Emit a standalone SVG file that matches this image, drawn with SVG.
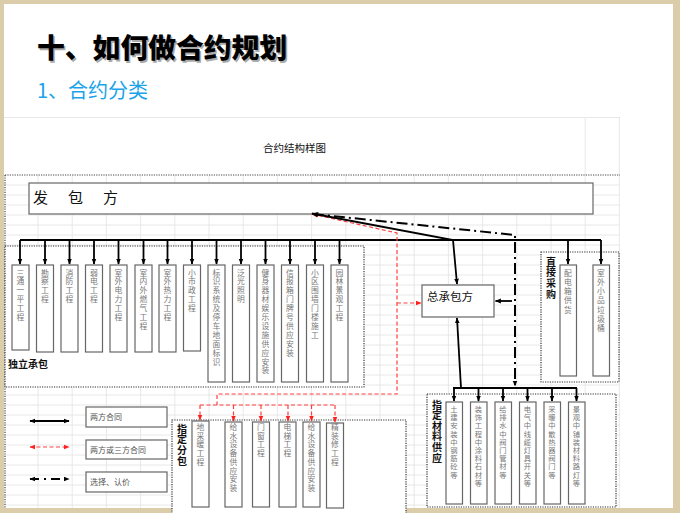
<svg xmlns="http://www.w3.org/2000/svg" width="680" height="513" viewBox="0 0 680 513">
<defs>
<style>
.cjk{font-family:"Noto Sans CJK SC","Noto Sans",sans-serif}
.v{font-family:"Noto Sans CJK SC",sans-serif;font-size:7.8px;fill:#777;text-anchor:middle}
.vs{font-family:"Noto Sans CJK SC",sans-serif;font-size:7.3px;fill:#777;text-anchor:middle}
.lbl{font-family:"Noto Sans CJK SC",sans-serif;font-size:10px;font-weight:bold;fill:#111}
.vl{font-family:"Noto Sans CJK SC",sans-serif;font-size:10px;font-weight:bold;fill:#111;text-anchor:middle}
.box{fill:#fff;stroke:#666;stroke-width:1.2}
.frame{fill:#fff;stroke:#333;stroke-width:1.2;stroke-dasharray:1.2 1.2}
.grid{stroke:#e2e2e2;stroke-width:0.8;fill:none}
.solid{stroke:#000;stroke-width:1.8;fill:none}
.red{stroke:#ff4040;stroke-width:1.2;stroke-dasharray:4 2.5;fill:none}
.dd{stroke:#000;stroke-width:2;stroke-dasharray:11 4 2 4;fill:none}
.leg{font-family:"Noto Sans CJK SC",sans-serif;font-size:8px;fill:#555}
</style>
<marker id="ab" viewBox="0 0 10 10" refX="9" refY="5" markerWidth="6" markerHeight="6" markerUnits="userSpaceOnUse" orient="auto-start-reverse"><path d="M0,1 L10,5 L0,9 z" fill="#000"/></marker>
<marker id="ar" viewBox="0 0 10 10" refX="9" refY="5" markerWidth="6" markerHeight="6" markerUnits="userSpaceOnUse" orient="auto-start-reverse"><path d="M0,1 L10,5 L0,9 z" fill="#ff2020"/></marker>
</defs>

<!-- slide background -->
<rect x="0" y="0" width="680" height="513" fill="#dccdaa"/>
<rect x="4" y="4" width="669" height="504" fill="#fff"/>

<!-- titles -->
<text x="38.5" y="59.5" class="cjk" font-size="27.8" font-weight="900" fill="#aaa">十、如何做合约规划</text>
<text x="37" y="58" class="cjk" font-size="27.8" font-weight="900" fill="#000">十、如何做合约规划</text>
<text x="37" y="98" class="cjk" font-size="20" fill="#1aa3e8">1、合约分类</text>

<!-- spreadsheet grid -->
<g id="sheet">
<path class="grid" d="M4 117.5H620 M585.2 117.5V175 M619.4 117.5V508"/>
<path class="grid" d="M38 175V508 M72.2 175V508 M106.4 175V508 M140.6 175V508 M174.8 175V508 M209 175V508 M243.2 175V508 M277.4 175V508 M311.6 175V508 M345.8 175V508 M380 175V508 M414.2 175V508 M448.4 175V508 M482.6 175V508 M516.8 175V508 M551 175V508 M585.2 175V508"/>
<path class="grid" d="M4 185H620 M4 195H620 M4 205H620 M4 215H620 M4 225H620 M4 235H620 M4 245H620 M4 255H620 M4 265H620 M4 275H620 M4 285H620 M4 295H620 M4 305H620 M4 315H620 M4 325H620 M4 335H620 M4 345H620 M4 355H620 M4 365H620 M4 375H620 M4 385H620 M4 395H620 M4 405H620 M4 415H620 M4 425H620 M4 435H620 M4 445H620 M4 455H620 M4 465H620 M4 475H620 M4 485H620 M4 495H620 M4 505H620"/>
<text x="263" y="152" class="cjk" font-size="10.5" fill="#111">合约结构样图</text>
<path d="M5 175H620 M5 175V508" stroke="#444" stroke-width="1.2" stroke-dasharray="1.2 1.2" fill="none"/>
</g>

<!-- frames -->
<g id="frame-independent">
<rect class="frame" x="5" y="246" width="359" height="141"/>
<text class="lbl" x="8" y="368">独立承包</text>
</g>
<g id="frame-direct">
<rect class="frame" x="541" y="252" width="78" height="130"/>
<text class="vl" x="551 551 551 551" y="265.5 276 287 297.5">直接采购</text>
</g>
<g id="frame-material">
<rect class="frame" x="427" y="394" width="189" height="113"/>
<text class="vl" x="437 437 437 437 437 437" y="408.5 419.1 429.7 440.3 450.9 461.5">指定材料供应</text>
</g>
<g id="frame-designated">
<rect class="frame" x="172" y="420" width="234" height="95"/>
<text class="vl" x="182 182 182 182" y="432.5 443.2 453.9 464.6">指定分包</text>
</g>

<!-- main nodes -->
<g id="n-owner">
<rect class="box" x="29" y="183" width="564" height="31"/>
<text class="cjk" font-size="15" fill="#111" y="203"><tspan x="33">发</tspan><tspan x="68">包</tspan><tspan x="103">方</tspan></text>
</g>
<g id="n-general">
<rect class="box" x="422" y="285" width="72" height="32"/>
<text class="cjk" x="427" y="301" font-size="11.5" fill="#111">总承包方</text>
</g>

<!-- independent contract boxes -->
<g id="i1"><rect class="box" x="12" y="265" width="17" height="85"/><text class="v" x="20.5 20.5 20.5 20.5 20.5 20.5" y="275.5 284.4 293.3 302.2 311.1 320">三通一平工程</text></g>
<g id="i2"><rect class="box" x="36.5" y="265" width="17" height="87"/><text class="v" x="45 45 45 45" y="275.5 284.4 293.3 302.2">勘察工程</text></g>
<g id="i3"><rect class="box" x="61" y="265" width="17" height="87"/><text class="v" x="69.5 69.5 69.5 69.5" y="275.5 284.4 293.3 302.2">消防工程</text></g>
<g id="i4"><rect class="box" x="85.5" y="265" width="17" height="87"/><text class="v" x="94 94 94 94" y="275.5 284.4 293.3 302.2">弱电工程</text></g>
<g id="i5"><rect class="box" x="110" y="265" width="17" height="87"/><text class="v" x="118.5 118.5 118.5 118.5 118.5 118.5" y="275.5 284.4 293.3 302.2 311.1 320">室外电力工程</text></g>
<g id="i6"><rect class="box" x="135" y="265" width="17" height="87"/><text class="v" x="143.5 143.5 143.5 143.5 143.5 143.5 143.5" y="275.5 284.4 293.3 302.2 311.1 320 328.9">室内外燃气工程</text></g>
<g id="i7"><rect class="box" x="159" y="265" width="17" height="87"/><text class="v" x="167.5 167.5 167.5 167.5 167.5 167.5" y="275.5 284.4 293.3 302.2 311.1 320">室外热力工程</text></g>
<g id="i8"><rect class="box" x="183.5" y="265" width="17" height="86"/><text class="v" x="192 192 192 192 192" y="275.5 284.4 293.3 302.2 311.1">小市政工程</text></g>
<g id="i9"><rect class="box" x="208" y="265" width="17" height="117"/><text class="v" x="216.5 216.5 216.5 216.5 216.5 216.5 216.5 216.5 216.5 216.5 216.5" y="275.5 284.4 293.3 302.2 311.1 320 328.9 337.8 346.7 355.6 364.5">标识系统及停车地面标识</text></g>
<g id="i10"><rect class="box" x="232.5" y="265" width="17" height="117"/><text class="v" x="241 241 241 241" y="275.5 284.4 293.3 302.2">泛光照明</text></g>
<g id="i11"><rect class="box" x="257" y="265" width="17" height="117"/><text class="v" x="265.5 265.5 265.5 265.5 265.5 265.5 265.5 265.5 265.5 265.5 265.5 265.5" y="275.5 284.4 293.3 302.2 311.1 320 328.9 337.8 346.7 355.6 364.5 373.4">健身器材娱乐设施供应安装</text></g>
<g id="i12"><rect class="box" x="281.5" y="265" width="17" height="117"/><text class="v" x="290 290 290 290 290 290 290 290 290 290" y="275.5 284.4 293.3 302.2 311.1 320 328.9 337.8 346.7 355.6">信报箱门牌号供应安装</text></g>
<g id="i13"><rect class="box" x="306.5" y="265" width="17" height="117"/><text class="v" x="315 315 315 315 315 315 315 315" y="275.5 284.4 293.3 302.2 311.1 320 328.9 337.8">小区围墙门楼施工</text></g>
<g id="i14"><rect class="box" x="331" y="265" width="17" height="117"/><text class="v" x="339.5 339.5 339.5 339.5 339.5 339.5" y="275.5 284.4 293.3 302.2 311.1 320">园林景观工程</text></g>

<!-- direct purchase boxes -->
<g id="d1"><rect class="box" x="560" y="265" width="16.5" height="111"/><text class="v" x="568 568 568 568 568" y="275.5 284.8 294.1 303.4 312.7">配电箱供货</text></g>
<g id="d2"><rect class="box" x="593" y="265" width="16.5" height="111"/><text class="v" x="601 601 601 601 601 601 601" y="275.5 284.8 294.1 303.4 312.7 322 331.3">室外小品垃圾桶</text></g>

<!-- material supply boxes -->
<g id="m1"><rect class="box" x="446" y="402" width="16.5" height="102"/><text class="vs" x="454 454 454 454 454 454 454 454 454" y="412 420.2 428.4 436.6 444.8 453 461.2 469.4 477.6">土建安装中钢筋砼等</text></g>
<g id="m2"><rect class="box" x="470.5" y="402" width="16.5" height="102"/><text class="vs" x="478.5 478.5 478.5 478.5 478.5 478.5 478.5 478.5 478.5 478.5" y="412 420.2 428.4 436.6 444.8 453 461.2 469.4 477.6 485.8">装饰工程中涂料石材等</text></g>
<g id="m3"><rect class="box" x="495" y="402" width="16.5" height="102"/><text class="vs" x="503 503 503 503 503 503 503 503 503" y="412 420.2 428.4 436.6 444.8 453 461.2 469.4 477.6">给排水中阀门管材等</text></g>
<g id="m4"><rect class="box" x="519.5" y="402" width="16.5" height="102"/><text class="vs" x="527.5 527.5 527.5 527.5 527.5 527.5 527.5 527.5 527.5 527.5" y="412 420.2 428.4 436.6 444.8 453 461.2 469.4 477.6 485.8">电气中线缆灯具开关等</text></g>
<g id="m5"><rect class="box" x="544" y="402" width="16.5" height="102"/><text class="vs" x="552 552 552 552 552 552 552 552 552" y="412 420.2 428.4 436.6 444.8 453 461.2 469.4 477.6">采暖中散热器阀门等</text></g>
<g id="m6"><rect class="box" x="568.5" y="402" width="16.5" height="102"/><text class="vs" x="576.5 576.5 576.5 576.5 576.5 576.5 576.5 576.5 576.5 576.5" y="412 420.2 428.4 436.6 444.8 453 461.2 469.4 477.6 485.8">景观中铺装材料路灯等</text></g>

<!-- designated subcontract boxes -->
<g id="s1"><rect class="box" x="192" y="421" width="17" height="86"/><text class="v" x="200.5 200.5 200.5 200.5 200.5" y="430 438.7 447.4 456.1 464.8">地采暖工程</text></g>
<g id="s2"><rect class="box" x="225" y="422" width="17" height="85"/><text class="v" x="233.5 233.5 233.5 233.5 233.5 233.5 233.5 233.5" y="430 438.7 447.4 456.1 464.8 473.5 482.2 490.9">给水设备供应安装</text></g>
<g id="s3"><rect class="box" x="252.5" y="422" width="17" height="85"/><text class="v" x="261 261 261 261" y="430 438.7 447.4 456.1">门窗工程</text></g>
<g id="s4"><rect class="box" x="279" y="422" width="17" height="85"/><text class="v" x="287.5 287.5 287.5 287.5" y="430 438.7 447.4 456.1">电梯工程</text></g>
<g id="s5"><rect class="box" x="303" y="422" width="17" height="85"/><text class="v" x="311.5 311.5 311.5 311.5 311.5 311.5 311.5 311.5" y="430 438.7 447.4 456.1 464.8 473.5 482.2 490.9">给水设备供应安装</text></g>
<g id="s6"><rect class="box" x="326.5" y="423" width="17" height="85" stroke="#aaa" stroke-width="1.8"/><text class="v" x="335 335 335 335 335" y="430 438.7 447.4 456.1 464.8">精装修工程</text></g>

<!-- legend -->
<g id="legend">
<line class="solid" x1="30" y1="421" x2="69" y2="421" marker-start="url(#ab)" marker-end="url(#ab)"/>
<rect class="box" x="86" y="407" width="81" height="20"/>
<text class="leg" x="90" y="419.5">两方合同</text>
<line class="red" x1="30" y1="447" x2="69" y2="447" marker-start="url(#ar)" marker-end="url(#ar)"/>
<rect class="box" x="86" y="440" width="81" height="19"/>
<text class="leg" x="90" y="452.5">两方或三方合同</text>
<line x1="30" y1="479" x2="69" y2="479" stroke="#000" stroke-width="2" stroke-dasharray="9 5 2 5" marker-start="url(#ab)" marker-end="url(#ab)"/>
<rect class="box" x="86" y="472" width="81" height="20"/>
<text class="leg" x="90" y="485">选择、认价</text>
</g>

<!-- connectors -->
<g id="connectors">
<path class="solid" d="M20 240H601"/>
<line class="solid" stroke-width="1.6" x1="20" y1="240" x2="20" y2="264" marker-end="url(#ab)"/>
<line class="solid" stroke-width="1.6" x1="45" y1="240" x2="45" y2="264" marker-end="url(#ab)"/>
<line class="solid" stroke-width="1.6" x1="69.5" y1="240" x2="69.5" y2="264" marker-end="url(#ab)"/>
<line class="solid" stroke-width="1.6" x1="94" y1="240" x2="94" y2="264" marker-end="url(#ab)"/>
<line class="solid" stroke-width="1.6" x1="118.5" y1="240" x2="118.5" y2="264" marker-end="url(#ab)"/>
<line class="solid" stroke-width="1.6" x1="143.5" y1="240" x2="143.5" y2="264" marker-end="url(#ab)"/>
<line class="solid" stroke-width="1.6" x1="167.5" y1="240" x2="167.5" y2="264" marker-end="url(#ab)"/>
<line class="solid" stroke-width="1.6" x1="192" y1="240" x2="192" y2="264" marker-end="url(#ab)"/>
<line class="solid" stroke-width="1.6" x1="216.5" y1="240" x2="216.5" y2="264" marker-end="url(#ab)"/>
<line class="solid" stroke-width="1.6" x1="241" y1="240" x2="241" y2="264" marker-end="url(#ab)"/>
<line class="solid" stroke-width="1.6" x1="265.5" y1="240" x2="265.5" y2="264" marker-end="url(#ab)"/>
<line class="solid" stroke-width="1.6" x1="290" y1="240" x2="290" y2="264" marker-end="url(#ab)"/>
<line class="solid" stroke-width="1.6" x1="315" y1="240" x2="315" y2="264" marker-end="url(#ab)"/>
<line class="solid" stroke-width="1.6" x1="339.5" y1="240" x2="339.5" y2="264" marker-end="url(#ab)"/>
<line class="solid" stroke-width="1.6" x1="568" y1="240" x2="568" y2="264" marker-end="url(#ab)"/>
<line class="solid" stroke-width="1.6" x1="601" y1="240" x2="601" y2="264" marker-end="url(#ab)"/>

<!-- red dashed: owner to designated subcontract / general -->
<polyline class="red" points="312,214 397,233 397,394 217,394 217,405" marker-start="url(#ar)"/>
<line class="red" x1="397" y1="303" x2="421" y2="303" marker-end="url(#ar)"/>
<path class="red" d="M200 405H335"/>
<line class="red" x1="200" y1="405" x2="200" y2="420" marker-end="url(#ar)"/>
<line class="red" x1="233.5" y1="405" x2="233.5" y2="421" marker-end="url(#ar)"/>
<line class="red" x1="261" y1="405" x2="261" y2="421" marker-end="url(#ar)"/>
<line class="red" x1="288" y1="405" x2="288" y2="421" marker-end="url(#ar)"/>
<line class="red" x1="311.5" y1="405" x2="311.5" y2="421" marker-end="url(#ar)"/>
<line class="red" x1="335" y1="405" x2="335" y2="422" marker-end="url(#ar)"/>

<!-- solid: owner to general contractor -->
<polyline class="solid" stroke-width="1.6" points="312,213.5 453,240 457,284" marker-start="url(#ab)" marker-end="url(#ab)"/>

<!-- dash-dot: owner to material supply -->
<polyline class="dd" points="313,214 515,235 515,386" marker-start="url(#ab)" marker-end="url(#ab)"/>
<line class="solid" stroke-width="1.6" x1="512" y1="301" x2="495.5" y2="301" marker-end="url(#ab)"/>

<!-- material bus -->
<line class="solid" stroke-width="1.6" x1="461" y1="388" x2="457" y2="318" marker-end="url(#ab)"/>
<path class="solid" d="M453 388H577"/>
<line class="solid" stroke-width="1.6" x1="454" y1="388" x2="454" y2="401" marker-end="url(#ab)"/>
<line class="solid" stroke-width="1.6" x1="478.5" y1="388" x2="478.5" y2="401" marker-end="url(#ab)"/>
<line class="solid" stroke-width="1.6" x1="503" y1="388" x2="503" y2="401" marker-end="url(#ab)"/>
<line class="solid" stroke-width="1.6" x1="527.5" y1="388" x2="527.5" y2="401" marker-end="url(#ab)"/>
<line class="solid" stroke-width="1.6" x1="552" y1="388" x2="552" y2="401" marker-end="url(#ab)"/>
<line class="solid" stroke-width="1.6" x1="576.5" y1="388" x2="576.5" y2="401" marker-end="url(#ab)"/>
</g>
</svg>
